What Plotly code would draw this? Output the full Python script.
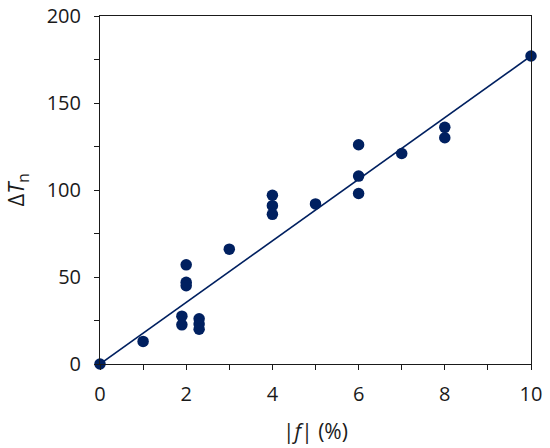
import plotly.graph_objects as go

# Measured points: |f| (%) and ΔT_n
f_pct = [0, 1, 1.9, 1.9, 2, 2, 2, 2.3, 2.3, 2.3, 3, 4, 4, 4, 5, 6, 6, 6, 7, 8, 8, 10]
dT_n = [0, 13, 27.5, 22.5, 57, 47, 45, 26, 23, 20, 66, 97, 91, 86, 92, 126, 108, 98, 121, 136, 130, 177]

# Linear fit line
fit_x = [0, 10]
fit_y = [0, 177]

navy = "#002060"
font_family = "Open Sans, Liberation Sans, sans-serif"

fig = go.Figure()
fig.add_trace(go.Scatter(x=fit_x, y=fit_y, mode="lines",
                         line=dict(color=navy, width=1.6),
                         cliponaxis=False, hoverinfo="skip"))
fig.add_trace(go.Scatter(x=f_pct, y=dT_n, mode="markers",
                         marker=dict(color=navy, size=11.5),
                         cliponaxis=False))

axis_common = dict(
    showgrid=False, zeroline=False, showline=True, linecolor="#1a1a1a",
    linewidth=1, mirror=True, ticks="outside", ticklen=5, tickcolor="#1a1a1a",
    tickfont=dict(family=font_family, size=20, color="#1a1a1a"),
    automargin=False, ticklabeloverflow="allow",
)

fig.update_layout(
    width=550, height=448,
    margin=dict(l=100, r=19, t=16, b=84),
    plot_bgcolor="white", paper_bgcolor="white",
    showlegend=False,
    font=dict(family=font_family, color="#1a1a1a"),
    xaxis=dict(range=[0, 10], dtick=2, tick0=0, ticklabelstandoff=7,
               minor=dict(dtick=1, ticks="outside", ticklen=5, tickcolor="#1a1a1a"),
               title=dict(text="|<i>f</i>| (%)", font=dict(size=21), standoff=18),
               **axis_common),
    yaxis=dict(range=[0, 200], dtick=50, tick0=0, ticklabelstandoff=9,
               minor=dict(dtick=25, ticks="outside", ticklen=5, tickcolor="#1a1a1a"),
               title=dict(text="Δ<i>T</i><sub>n</sub>", font=dict(size=22), standoff=22),
               **axis_common),
)

fig.write_html("out.html", config={"displayModeBar": False},
               post_script="document.body.style.margin='0';")
